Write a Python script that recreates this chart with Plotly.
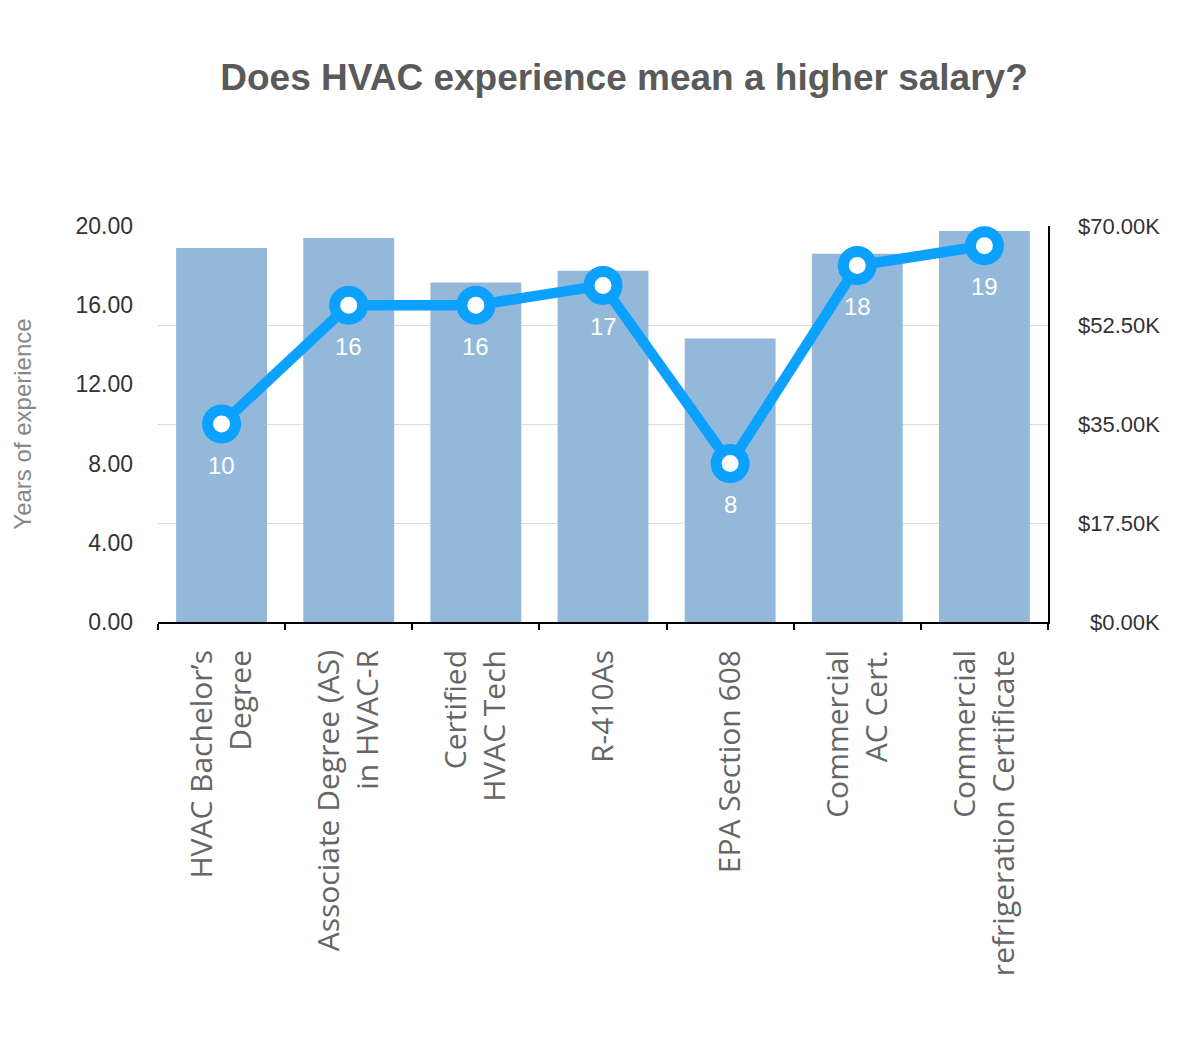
import plotly.graph_objects as go

categories = [
    "HVAC Bachelor’s<br>Degree",
    "Associate Degree (AS)<br>in HVAC-R",
    "Certified<br>HVAC Tech",
    "R-410As",
    "EPA Section 608",
    "Commercial<br>AC Cert.",
    "Commercial<br>refrigeration Certificate",
]
salary_k = [66.1, 67.9, 60.0, 62.1, 50.1, 65.1, 69.1]
years = [10, 16, 16, 17, 8, 18, 19]
salary_ticks = [0, 17.5, 35, 52.5, 70]
years_ticks = [0, 4, 8, 12, 16, 20]

BAR = "#93B8DA"
LINE = "#0CA0FF"

fig = go.Figure()
fig.add_trace(go.Bar(
    x=categories, y=salary_k, yaxis="y", marker=dict(color=BAR, line=dict(width=0)),
    name="Salary", showlegend=False, hoverinfo="x+y",
))
fig.add_trace(go.Scatter(
    x=categories, y=years, yaxis="y2", mode="lines+markers",
    line=dict(color=LINE, width=10.5),
    marker=dict(size=28, color="white", line=dict(color=LINE, width=11)),
    name="Years of experience", showlegend=False,
))

annotations = []
for c, v in zip(categories, years):
    annotations.append(dict(
        x=c, y=v, xref="x", yref="y2", text=str(v), showarrow=False,
        yshift=-41, font=dict(family="Liberation Sans, Arial", size=24, color="white"),
        xanchor="center", yanchor="middle",
    ))
for t in salary_ticks:
    annotations.append(dict(
        x=1.128, y=t, xref="paper", yref="y", text="$%.2fK" % t, showarrow=False,
        font=dict(family="Liberation Sans, Arial", size=22, color="#333333"),
        xanchor="right", yanchor="middle",
    ))

fig.update_layout(
    width=1200, height=1050,
    margin=dict(l=158, r=152, t=226, b=428),
    paper_bgcolor="white", plot_bgcolor="white",
    bargap=0.285,
    title=dict(
        text="<b>Does HVAC experience mean a higher salary?</b>",
        x=624 / 1200, xanchor="center", xref="container",
        y=1 - 77 / 1050, yanchor="middle", yref="container",
        font=dict(family="Liberation Sans, Arial", size=37, color="#5a5a5a"),
    ),
    xaxis=dict(
        type="category", tickson="boundaries", ticks="outside", ticklen=6,
        tickcolor="black", tickwidth=1.5, showline=True, linecolor="black", linewidth=2,
        showgrid=False, tickangle=-90, ticklabelstandoff=14,
        tickfont=dict(family="Open Sans", size=30, color="#666666"),
    ),
    yaxis=dict(
        side="right", range=[0, 70], tickvals=salary_ticks, showticklabels=False,
        showgrid=True, gridcolor="#dcdcdc", gridwidth=1, zeroline=False,
        showline=True, linecolor="black", linewidth=2, ticks="",
    ),
    yaxis2=dict(
        overlaying="y", side="left", range=[0, 20], tickvals=years_ticks,
        tickformat=".2f", showgrid=False, zeroline=False, showline=False, ticks="",
        ticklabelstandoff=24,
        tickfont=dict(family="Liberation Sans, Arial", size=23, color="#333333"),
        title=dict(text="Years of experience", standoff=37,
                   font=dict(family="Liberation Sans, Arial", size=24, color="#888888")),
    ),
    annotations=annotations,
)

fig.write_html("out.html")
